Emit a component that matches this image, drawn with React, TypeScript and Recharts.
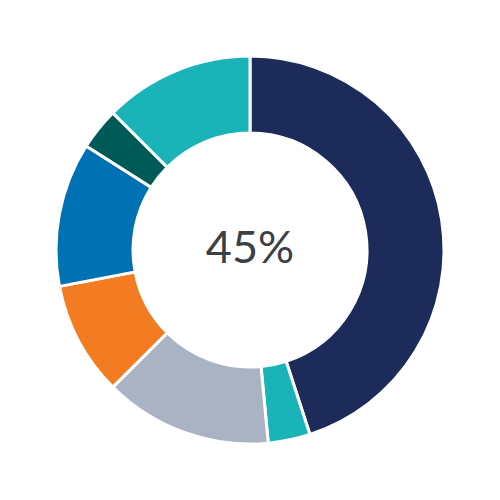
import { Cell, Pie, PieChart } from "recharts";

const segments = ["Navy", "Teal small", "Gray", "Orange", "Blue", "Dark teal", "Teal"];
const shares = [45, 3.5, 14, 9.5, 12, 3.5, 12.5];
const colors = ["#1c2b5a", "#1ab4b8", "#a9b3c3", "#f37c22", "#0072b4", "#005a58", "#1ab4b8"];
const centerLabel = "45%";

const data = segments.map((name, i) => ({ name, value: shares[i] }));

export default function App() {
  return (
    <div style={{ position: "absolute", left: 0, top: 0, width: 500, height: 500, background: "#fff" }}>
      <PieChart width={500} height={500} margin={{ top: 0, right: 0, bottom: 0, left: 0 }}>
        <Pie
          data={data}
          dataKey="value"
          nameKey="name"
          cx="50%"
          cy="50%"
          innerRadius={117}
          outerRadius={194}
          startAngle={90}
          endAngle={-270}
          stroke="#fff"
          strokeWidth={3}
          isAnimationActive={false}
        >
          {data.map((d, i) => (
            <Cell key={d.name} fill={colors[i]} />
          ))}
        </Pie>
        <text
          x={250}
          y={246}
          textAnchor="middle"
          dominantBaseline="central"
          style={{ fontFamily: "Lato, sans-serif", fontSize: 45, fontWeight: 400, fill: "#3b4046" }}
        >
          {centerLabel}
        </text>
      </PieChart>
    </div>
  );
}
